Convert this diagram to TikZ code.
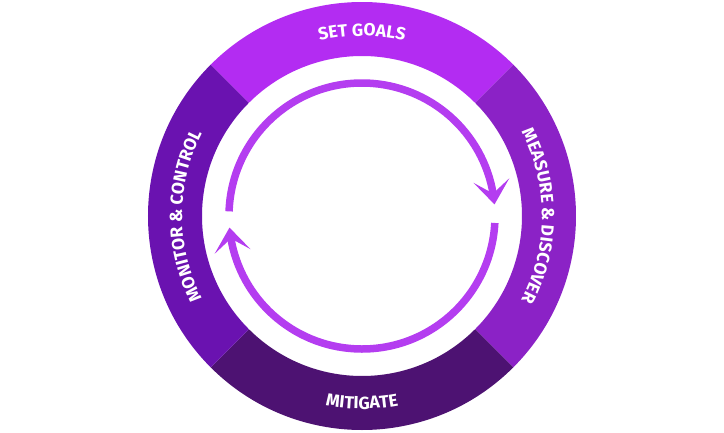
\documentclass[tikz,border=0pt]{standalone}
\usepackage{fontspec}
\setsansfont{Fira Sans}
\usetikzlibrary{decorations.text}
\usetikzlibrary{arrows.meta}
\usetikzlibrary{bending}

\definecolor{goalcol}{HTML}{B32CF2}
\definecolor{measurecol}{HTML}{8B22C6}
\definecolor{mitigatecol}{HTML}{4D1272}
\definecolor{monitorcol}{HTML}{6A12B0}
\definecolor{cyclecol}{HTML}{B43DF0}

\newcommand{\ringpart}[3]{%
  \fill[#3] (#1:214) arc[start angle=#1, end angle=#2, radius=214]
    -- (#2:160) arc[start angle=#2, end angle=#1, radius=160] -- cycle;}

\begin{document}
\begin{tikzpicture}[x=1pt, y=1pt,
    ringtext/.style={decorate, decoration={text along path, text align=center,
      text color=white, text={|\sffamily\bfseries\fontsize{17.5}{17.5}\selectfont|#1}}},
    cycle/.style={draw=cyclecol, line width=7.5pt,
      -{Stealth[length=24pt, width=36pt, inset=13pt, flex]}}]
  \useasboundingbox (-362,-216) rectangle (362,216);

  % ring of four steps
  \ringpart{45}{135}{goalcol}
  \ringpart{-45}{45}{measurecol}
  \ringpart{225}{315}{mitigatecol}
  \ringpart{135}{225}{monitorcol}

  % labels
  \path[ringtext={SET GOALS}] (150:180) arc[start angle=150, end angle=30, radius=180];
  \path[ringtext={MEASURE {\&} DISCOVER}] (60:180) arc[start angle=60, end angle=-60, radius=180];
  \path[ringtext={MITIGATE}] (240:193) arc[start angle=240, end angle=300, radius=193];
  \path[ringtext={MONITOR {\&} CONTROL}] (210:180) arc[start angle=210, end angle=150, radius=180];

  % inner cycle
  \draw[cycle] (178:133) arc[start angle=178, end angle=5, radius=133];
  \draw[cycle] (-3:133) arc[start angle=-3, end angle=-175, radius=133];
\end{tikzpicture}
\end{document}
